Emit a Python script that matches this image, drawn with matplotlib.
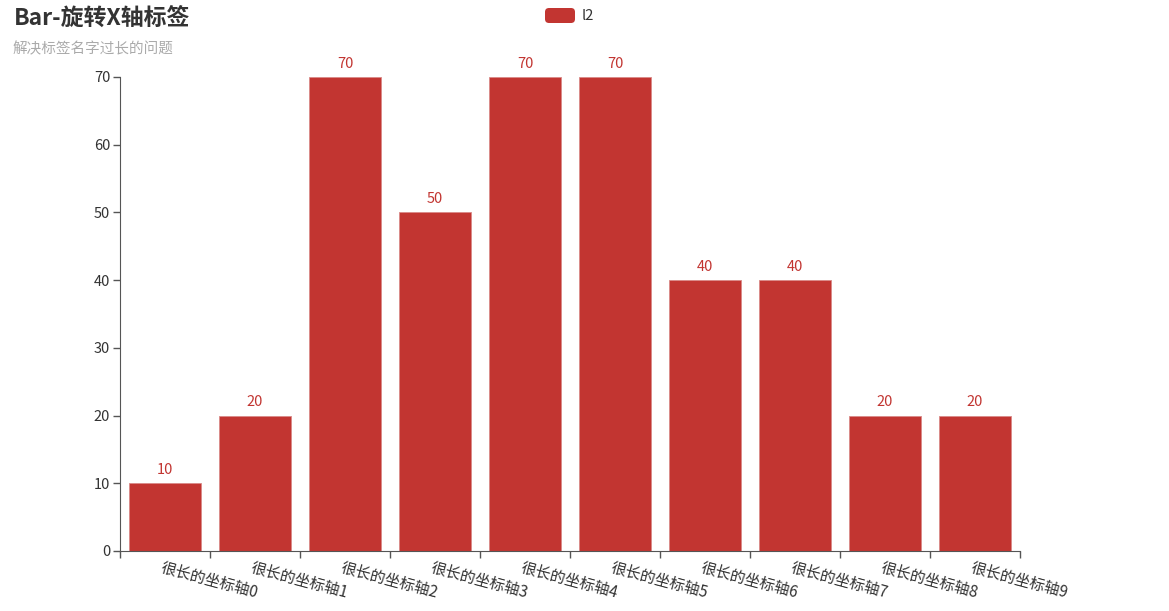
import matplotlib
matplotlib.use("Agg")
import matplotlib.pyplot as plt
from matplotlib.patches import FancyBboxPatch

plt.rcParams['font.family'] = ['Noto Sans CJK SC', 'DejaVu Sans']

categories = ["很长的坐标轴%d" % i for i in range(10)]
values = [10, 20, 70, 50, 70, 70, 40, 40, 20, 20]
series_name = "l2"
bar_color = "#c23531"
text_color = "#333333"
axis_color = "#555555"

fig = plt.figure(figsize=(11.69, 6.11), dpi=100)
ax = fig.add_axes([120 / 1169, 60 / 611, 900 / 1169, 474 / 611])

x = range(len(categories))
bars = ax.bar(x, values, width=0.8, color=bar_color, edgecolor="#d98a88", linewidth=0.6)
for b, v in zip(bars, values):
    ax.text(b.get_x() + b.get_width() / 2, v + 0.9, str(v), ha="center", va="bottom",
            color=bar_color, fontsize=10.5)

ax.set_xlim(-0.5, len(categories) - 0.5)
ax.set_ylim(0, 70)
ax.set_yticks(range(0, 71, 10))
ax.set_xticks([i - 0.5 for i in range(len(categories) + 1)])
ax.set_xticklabels([])
ax.tick_params(axis="both", direction="out", length=5, color=axis_color, labelcolor=text_color,
               labelsize=10.5, width=1)
ax.tick_params(axis="y", pad=2)
for s in ["top", "right"]:
    ax.spines[s].set_visible(False)
for s in ["left", "bottom"]:
    ax.spines[s].set_color(axis_color)

# rotated category labels
for i, lab in enumerate(categories):
    ax.annotate(lab, xy=(i, 0), xycoords="data", xytext=(-1, -6), textcoords="offset points",
                rotation=-15, ha="left", va="top", rotation_mode="anchor",
                color=text_color, fontsize=11)

fig.text(14 / 1169, 1 - 18 / 611, "Bar-旋转X轴标签", fontsize=16.5, fontweight="bold",
         color=text_color, ha="left", va="center")
fig.text(13 / 1169, 1 - 49 / 611, "解决标签名字过长的问题", fontsize=10.5, color="#aaaaaa",
         ha="left", va="center")

# legend
leg_ax = fig.add_axes([0, 0, 1, 1], facecolor="none")
leg_ax.set_xlim(0, 1169)
leg_ax.set_ylim(611, 0)
leg_ax.axis("off")
leg_ax.add_patch(FancyBboxPatch((545, 8), 30, 15, boxstyle="round,pad=0,rounding_size=4",
                                facecolor=bar_color, edgecolor="none"))
leg_ax.text(582, 15.5, series_name, fontsize=10.5, color=text_color, ha="left", va="center")

fig.savefig("out.png", dpi=100)
